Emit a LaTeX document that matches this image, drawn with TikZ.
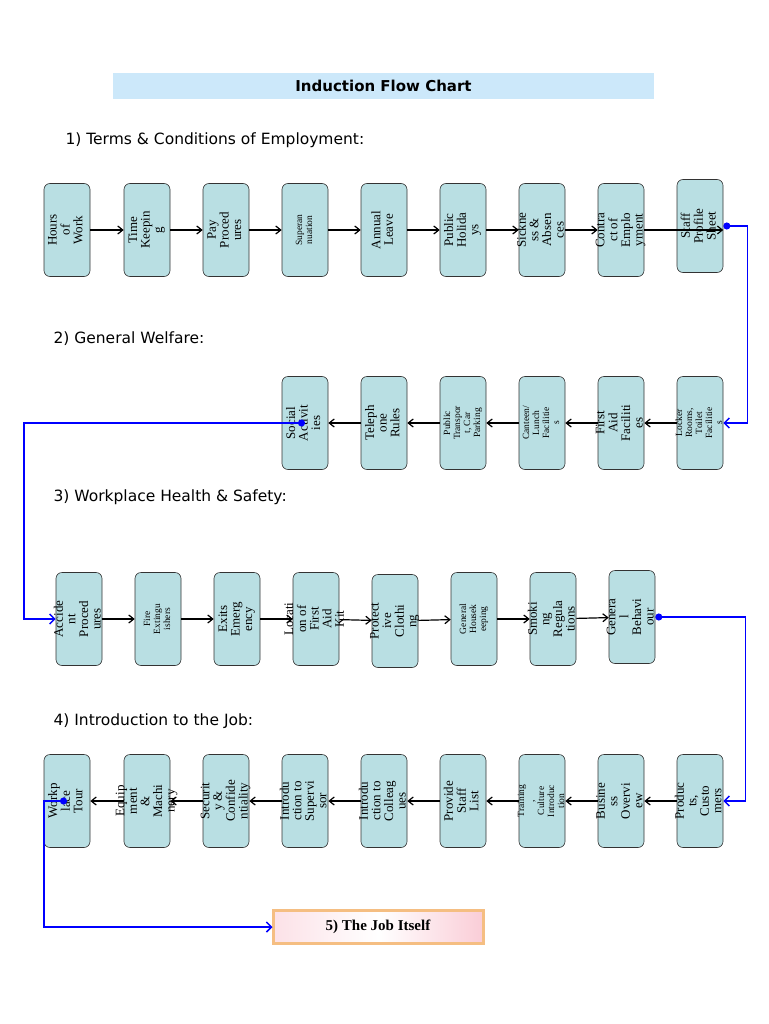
\documentclass[tikz,border=0pt]{standalone}
\usepackage{fontspec}
\setmainfont{Liberation Serif}
\newfontfamily\headfont{DejaVu Sans}
\usetikzlibrary{arrows.meta}
\definecolor{boxblue}{RGB}{185,223,227}
\definecolor{titleblue}{RGB}{204,232,250}
\definecolor{jobpink}{RGB}{250,205,215}
\definecolor{joborange}{RGB}{245,190,130}
\newcommand{\fitlines}[1]{\vbox to 0pt{\vss\hbox{\begin{tabular}{@{}c@{}}#1\end{tabular}}\vss}}

\begin{document}
\begin{tikzpicture}[x=1pt,y=-1pt]
\useasboundingbox (0,0) rectangle (768,1024);
\tikzset{
  stage/.style={rounded corners=6pt,draw=black!80,semithick,fill=boxblue,rotate=90,
    minimum width=93pt,minimum height=46pt,inner sep=0pt,
    font=\fontsize{13}{12.5}\selectfont},
  tiny/.style={font=\fontsize{9.5}{10}\selectfont},
  heading/.style={anchor=west,font=\headfont\fontsize{15.5}{17}\selectfont}
}
\node[fill=titleblue,minimum width=541pt,minimum height=26pt] (Title) at (383.5,86)
  {\headfont\bfseries\fontsize{15}{17}\selectfont Induction Flow Chart};
\node[heading] (HeadA) at (62,140) {1) Terms \& Conditions of Employment:};
\node[heading] (HeadB) at (50,339) {2) General Welfare:};
\node[heading] (HeadC) at (50,497) {3) Workplace Health \& Safety:};
\node[heading] (HeadD) at (50,721) {4) Introduction to the Job:};

% terms and conditions
\begin{scope}[every node/.style={stage}]
    \node (Hours) at (67,230) {\fitlines{Hours\\of\\Work}};
    \node (Time) at (147,230) {\fitlines{Time\\Keepin\\g}};
    \node (Pay) at (226,230) {\fitlines{Pay\\Proced\\ures}};
    \node[tiny] (Super) at (305,230) {\fitlines{Superan\\nuation}};
    \node (Annual) at (384,230) {\fitlines{Annual\\Leave}};
    \node (Holiday) at (463,230) {\fitlines{Public\\Holida\\ys}};
    \node (Sick) at (542,230) {\fitlines{Sickne\\ss \&\\Absen\\ces}};
    \node (Contract) at (621,230) {\fitlines{Contra\\ct of\\Emplo\\yment}};
    \node (Profile) at (700,226) {\fitlines{Staff\\Profile\\Sheet}};
\end{scope}

% general welfare
\begin{scope}[every node/.style={stage}]
    \node[tiny] (Locker) at (700,423) {\fitlines{Locker\\Rooms,\\Toilet\\Facilitie\\s}};
    \node (FirstAid) at (621,423) {\fitlines{First\\Aid\\Faciliti\\es}};
    \node[tiny] (Canteen) at (542,423) {\fitlines{Canteen/\\Lunch\\Facilitie\\s}};
    \node[tiny] (Transport) at (463,423) {\fitlines{Public\\Transpor\\t, Car\\Parking}};
    \node (Phone) at (384,423) {\fitlines{Teleph\\one\\Rules}};
    \node (Social) at (305,423) {\fitlines{Social\\Activit\\ies}};
\end{scope}

% health and safety
\begin{scope}[every node/.style={stage}]
    \node (Accident) at (79,619) {\fitlines{Accide\\nt\\Proced\\ures}};
    \node[tiny] (Fire) at (158,619) {\fitlines{Fire\\Extingu\\ishers}};
    \node (Exits) at (237,619) {\fitlines{Exits\\Emerg\\ency}};
    \node (Kit) at (316,619) {\fitlines{Locati\\on of\\First\\Aid\\Kit}};
    \node (Clothing) at (395,621) {\fitlines{Protect\\ive\\Clothi\\ng}};
    \node[tiny] (House) at (474,619) {\fitlines{General\\Housek\\eeping}};
    \node (Smoking) at (553,619) {\fitlines{Smoki\\ng\\Regula\\tions}};
    \node (Behaviour) at (632,617) {\fitlines{Genera\\l\\Behavi\\our}};
\end{scope}

% introduction to the job
\begin{scope}[every node/.style={stage}]
    \node (Products) at (700,801) {\fitlines{Produc\\ts,\\Custo\\mers}};
    \node (Business) at (621,801) {\fitlines{Busine\\ss\\Overvi\\ew}};
    \node[tiny] (Training) at (542,801) {\fitlines{Training\\,\\Culture\\Introduc\\tion}};
    \node (Staff) at (463,801) {\fitlines{Provide\\Staff\\List}};
    \node (Colleague) at (384,801) {\fitlines{Introdu\\ction to\\Colleag\\ues}};
    \node (Supervisor) at (305,801) {\fitlines{Introdu\\ction to\\Supervi\\sor}};
    \node (Security) at (226,801) {\fitlines{Securit\\y \&\\Confide\\ntiality}};
    \node (Machine) at (147,801) {\fitlines{Equip\\ment\\\&\\Machi\\nery}};
    \node (Tour) at (67,801) {\fitlines{Workp\\lace\\Tour}};
\end{scope}

\node[draw=joborange,double=joborange,double distance=1pt,line width=1pt,
  left color=jobpink!60!white,right color=jobpink,middle color=white,
  minimum width=210pt,minimum height=33pt,
  font=\bfseries\fontsize{15}{17}\selectfont] (Job) at (378,927) {5) The Job Itself};

\begin{scope}[>={Straight Barb[black,length=5pt,width=8pt]},
              every edge/.style={draw=black,very thick}]
    \path [->] (Hours) edge (Time);
    \path [->] (Time) edge (Pay);
    \path [->] (Pay) edge (Super);
    \path [->] (Super) edge (Annual);
    \path [->] (Annual) edge (Holiday);
    \path [->] (Holiday) edge (Sick);
    \path [->] (Sick) edge (Contract);
    \path [->] (Contract) edge (Profile.south |- Contract);
    \path [->] (Locker) edge (FirstAid);
    \path [->] (FirstAid) edge (Canteen);
    \path [->] (Canteen) edge (Transport);
    \path [->] (Transport) edge (Phone);
    \path [->] (Phone) edge (Social);
    \path [->] (Accident) edge (Fire);
    \path [->] (Fire) edge (Exits);
    \path [->] (Exits) edge (Kit);
    \path [->] (Kit) edge (Clothing);
    \path [->] (Clothing) edge (House);
    \path [->] (House) edge (Smoking);
    \path [->] (Smoking) edge (Behaviour);
    \path [->] (Products) edge (Business);
    \path [->] (Business) edge (Training);
    \path [->] (Training) edge (Staff);
    \path [->] (Staff) edge (Colleague);
    \path [->] (Colleague) edge (Supervisor);
    \path [->] (Supervisor) edge (Security);
    \path [->] (Security) edge (Machine);
    \path [->] (Machine) edge (Tour);
\end{scope}

% links between the rows
\begin{scope}[draw=blue,line width=1.5pt,>={Straight Barb[blue,length=5pt,width=10pt]}]
    \draw[{Circle[blue,length=7pt]}->] (Profile.south) -- ++(24,0) |- (Locker.south);
    \draw[{Circle[blue,length=7pt]}->] (Social.center) -- (24,423) |- (Accident.north);
    \draw[{Circle[blue,length=7pt]}->] (Behaviour.south) -- ++(90,0) |- (Products.south);
    \draw[{Circle[blue,length=7pt]}->] (Tour.center) -- (44,801) |- (Job.west);
\end{scope}
\end{tikzpicture}
\end{document}
